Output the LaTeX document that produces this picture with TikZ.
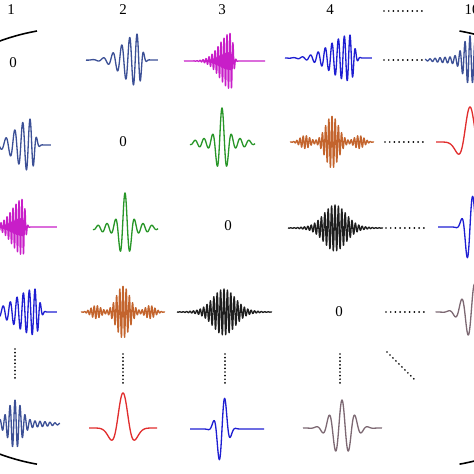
\documentclass[tikz,border=0pt]{standalone}
\usepackage{fontspec}
\setmainfont{Liberation Serif}
\definecolor{cslate}{RGB}{60,80,150}
\definecolor{cmag}{RGB}{200,30,200}
\definecolor{cblue}{RGB}{30,30,210}
\definecolor{cgreen}{RGB}{40,150,40}
\definecolor{corange}{RGB}{195,100,45}
\definecolor{cred}{RGB}{225,45,45}
\definecolor{cblack}{RGB}{30,30,30}
\definecolor{cgray}{RGB}{125,105,115}
\newcommand{\wv}[8]{\draw[wave,#1] plot[domain=#6:#7,samples=#8] ({#2+\x},{#3-#4*#5(\x)});}
\begin{document}
\begin{tikzpicture}[x=0.02cm,y=-0.02cm,
  wave/.style={line width=0.75pt, line join=round},
  lbl/.style={font=\fontsize{8.5}{9}\selectfont, inner sep=0pt},
  hdots/.style={line width=1.1pt, line cap=round, dash pattern=on 0pt off 2.69pt},
  vdots/.style={line width=1.1pt, line cap=round, dash pattern=on 0pt off 2.05pt},
  ddots/.style={line width=1.1pt, line cap=round, dash pattern=on 0pt off 2.4pt},
  paren/.style={line width=0.9pt},
  declare function={
    fsla(\x)=ifthenelse(\x<1, exp(-(\x-1)*(\x-1)/484), exp(-(\x-1)*(\x-1)/25))*cos(51.43*\x/(1-0.006*\x));
    fmag(\x)=ifthenelse(\x<7, exp(-(\x-7)*(\x-7)/256), exp(-(\x-7)*(\x-7)/9))*cos(120*\x);
    fblu(\x)=ifthenelse(\x<0.5, exp(-(\x-0.5)*(\x-0.5)/784), exp(-(\x-0.5)*(\x-0.5)/25))*cos(65.45*\x/(1-0.005*\x));
    fsl(\x)=(exp(-\x*\x/81)+0.15*exp(-(\x*\x/1600)*(\x*\x/1600)))*cos(72*\x);
    fgrn(\x)=exp(-\x*\x/49)*cos(36*\x)+0.15*(1-exp(-\x*\x/81))*exp(-(\x*\x/900)*(\x*\x/900))*cos(40*\x);
    forg(\x)=(exp(-\x*\x/90)+0.25*exp(-(abs(\x)-27)*(abs(\x)-27)/49))*cos(112.5*\x);
    fred(\x)=(1-0.85*\x*\x/39.69)*exp(-0.5*\x*\x/39.69);
    fblk(\x)=(exp(-\x*\x/240)+0.05*exp(-(\x*\x/1444)*(\x*\x/1444)))*cos(105.9*\x);
    fbl(\x)=exp(-(\x+3)*(\x+3)/49)*cos(30*\x);
    fgry(\x)=exp(-\x*\x/210)*cos(27.69*\x);
  }]
\useasboundingbox (0,0) rectangle (474,474);
\clip (0,0) rectangle (474,474);

% header labels
\node[lbl] (h1) at (11,10) {1};
\node[lbl] (h2) at (123,10) {2};
\node[lbl] (h3) at (222,10) {3};
\node[lbl] (h4) at (330,10) {4};
\node[lbl] (h10) at (472,10) {10};

% diagonal zeros
\node[lbl] (z1) at (13,63) {0};
\node[lbl] (z2) at (123,142) {0};
\node[lbl] (z3) at (228,226) {0};
\node[lbl] (z4) at (339,312) {0};
\node[lbl] (z10) at (479,426) {0};

% matrix parentheses
\draw[paren] (37,31) arc[start angle=-100.1, end angle=-259.9, radius=220];
\draw[paren] (459.5,31) arc[start angle=-79.9, end angle=79.9, radius=220];

% row 1
\wv{cslate}{137}{60}{26}{fsla}{-51}{21}{300}
\wv{cmag}{224}{61}{28}{fmag}{-40}{41}{500}
\wv{cblue}{350}{58}{23}{fblu}{-65}{22}{400}
\wv{cslate}{470}{60}{21}{fsl}{-45}{50}{400}
% row 2
\wv{cslate}{30}{145}{26}{fsla}{-51}{21}{300}
\wv{cgreen}{222}{143}{35}{fgrn}{-32}{33}{300}
\wv{corange}{332}{142}{26}{forg}{-42}{42}{500}
\wv{cred}{470}{142}{35}{fred}{-34}{34}{200}
% row 3
\wv{cmag}{16}{227}{28}{fmag}{-40}{41}{500}
\wv{cgreen}{125}{228}{35}{fgrn}{-32}{33}{300}
\wv{cblack}{335}{228}{22}{fblk}{-47}{48}{500}
\wv{cblue}{473}{227}{36}{fbl}{-35}{39}{200}
% row 4
\wv{cblue}{35}{312}{23}{fblu}{-65}{22}{400}
\wv{corange}{123}{312}{26}{forg}{-42}{42}{500}
\wv{cblack}{224}{312}{22}{fblk}{-47}{48}{500}
\wv{cgray}{474.5}{312}{28}{fgry}{-39}{40}{200}
% row 10
\wv{cslate}{15}{424}{21}{fsl}{-45}{45}{400}
\wv{cred}{123}{428}{35}{fred}{-34}{34}{200}
\wv{cblue}{225}{429}{36}{fbl}{-35}{39}{200}
\wv{cgray}{342}{428}{28}{fgry}{-39}{40}{200}

% ellipsis dots
\draw[hdots] (384,11) -- (422.5,11);
\draw[hdots] (384,60) -- (425,60);
\draw[hdots] (385,142) -- (424,142);
\draw[hdots] (386,228) -- (425,228);
\draw[hdots] (386,312) -- (425,312);
\draw[vdots] (15,349) -- (15,379);
\draw[vdots] (123,354) -- (123,383);
\draw[vdots] (225,354) -- (225,383);
\draw[vdots] (340,354) -- (340,383);
\draw[ddots] (387,352) -- (414,379);
\end{tikzpicture}
\end{document}
